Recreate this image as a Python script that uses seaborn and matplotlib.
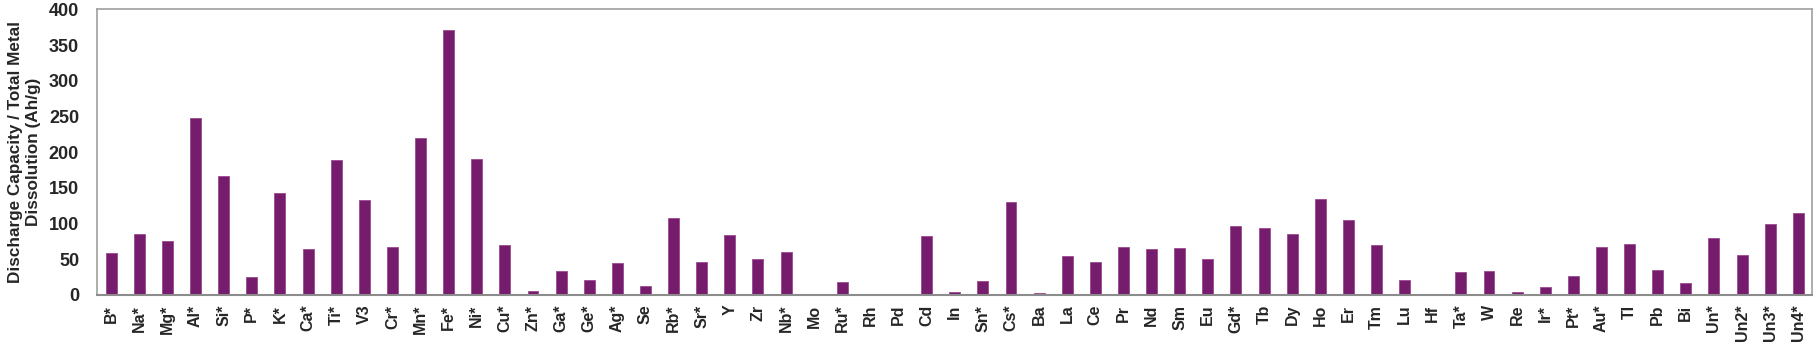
import numpy as np
import pandas as pd
import matplotlib
matplotlib.use("Agg")
import matplotlib.pyplot as plt
import seaborn as sns

# --- DATA ---
elements = ['B*', 'Na*', 'Mg*', 'Al*', 'Si*', 'P*', 'K*', 'Ca*', 'Ti*', 'V3', 'Cr*', 'Mn*', 'Fe*',
            'Ni*', 'Cu*', 'Zn*', 'Ga*', 'Ge*', 'Ag*', 'Se', 'Rb*', 'Sr*', 'Y', 'Zr', 'Nb*', 'Mo',
            'Ru*', 'Rh', 'Pd', 'Cd', 'In', 'Sn*', 'Cs*', 'Ba', 'La', 'Ce', 'Pr', 'Nd', 'Sm', 'Eu',
            'Gd*', 'Tb', 'Dy', 'Ho', 'Er', 'Tm', 'Lu', 'Hf', 'Ta*', 'W', 'Re', 'Ir*', 'Pt*', 'Au*',
            'Tl', 'Pb', 'Bi', 'Un*', 'Un2*', 'Un3*', 'Un4*']
capacity = [59.3, 85.4, 76.0, 247.8, 166.6, 24.7, 142.4, 64.0, 189.5, 132.6, 67.2, 219.8, 370.6,
            190.0, 69.5, 5.6, 33.6, 21.0, 44.3, 12.6, 107.4, 45.7, 83.5, 50.0, 59.7, 1.4,
            18.7, 0.0, 0.0, 83.0, 3.7, 20.0, 129.8, 3.3, 54.6, 46.2, 67.2, 64.4, 65.8, 50.4,
            96.2, 93.8, 85.0, 134.9, 105.5, 69.5, 21.0, 0.0, 31.7, 33.1, 3.7, 10.7, 27.0, 67.7,
            70.9, 34.5, 16.8, 80.3, 56.5, 99.9, 114.4]

df = pd.DataFrame({'Element': elements, 'Capacity': capacity})

sns.set_theme(style="white")
plt.rcParams['font.family'] = ['Liberation Sans', 'DejaVu Sans']

fig, ax = plt.subplots(figsize=(18.16, 3.49), dpi=100)
fig.subplots_adjust(left=0.0535, right=0.998, top=0.973, bottom=0.155)

sns.barplot(data=df, x='Element', y='Capacity', color='#761C6C', saturation=1,
            width=0.39, edgecolor='#9A4A90', linewidth=0.6, ax=ax)

ax.set_ylim(0, 400)
ax.set_yticks(np.arange(0, 401, 50))
ax.set_xlim(-0.5, len(elements) - 0.5)
ax.set_xlabel("")
ax.set_ylabel("Discharge Capacity / Total Metal\nDissolution (Ah/g)",
              fontsize=12.3, fontweight='bold', linespacing=1.25)
ax.yaxis.set_label_coords(-0.0325, 0.5)

for lbl in ax.get_yticklabels():
    lbl.set_fontsize(13)
    lbl.set_fontweight('bold')
ax.set_xticks(range(len(elements)))
ax.set_xticklabels(elements, rotation=90, fontsize=11.5, fontweight='bold')
ax.tick_params(axis='x', length=0, pad=7)
ax.tick_params(axis='y', length=0, pad=13)

for side in ['top', 'right', 'left']:
    ax.spines[side].set_color('#A0A0A0')
    ax.spines[side].set_linewidth(1.2)
ax.spines['bottom'].set_color('#8C8C8C')
ax.spines['bottom'].set_linewidth(1.5)

fig.savefig("out.png", dpi=100)
plt.close(fig)
